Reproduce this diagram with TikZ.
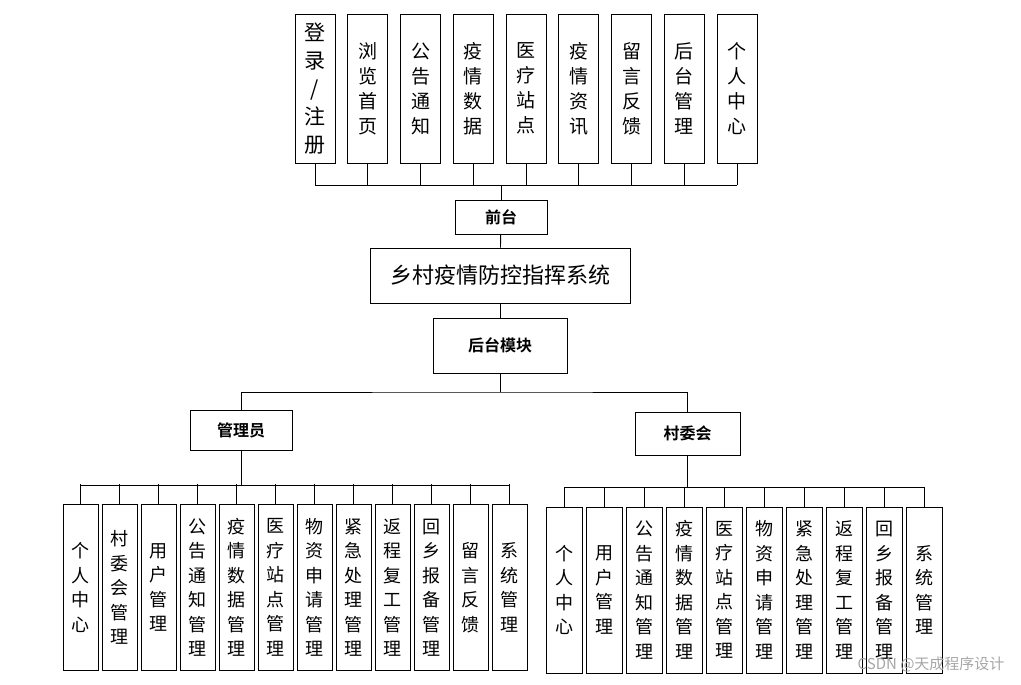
\documentclass[tikz,border=0pt]{standalone}
\usepackage{fontspec}
\setmainfont{Noto Sans CJK SC}
\newfontfamily\cjkb{Noto Sans CJK SC Bold}
\begin{document}
\begin{tikzpicture}[x=1pt,y=-1pt,
  bx/.style={draw,line width=0.9pt,inner sep=0pt,align=center},
  ln/.style={line width=0.9pt}]
\useasboundingbox (0,0) rectangle (1021,685);
% top
\foreach \t [count=\i from 0] in {浏\\览\\首\\页,公\\告\\通\\知,疫\\情\\数\\据,医\\疗\\站\\点,疫\\情\\资\\讯,留\\言\\反\\馈,后\\台\\管\\理,个\\人\\中\\心}{
  \node[bx,minimum width=40,minimum height=149,font=\fontsize{19}{25}\selectfont] (t\i) at ({367.75+52.75*\i},88.5) {\t};
  \draw[ln] (t\i.south) -- ++(0,22);
}
\node[bx,minimum width=40,minimum height=149,font=\fontsize{21}{28}\selectfont] (tA) at (315,88.5) {登\\录\\/\\注\\册};
\draw[ln] (tA.south) -- ++(0,22);
\node[bx,minimum width=92,minimum height=34,font=\cjkb\fontsize{16}{18}\selectfont] (qt) at (501,217) {前台};
\draw[ln] (tA.south |- 0,185) -- (t7.south |- 0,185);
\draw[ln] (qt.north |- 0,185) -- (qt.north);
\node[bx,minimum width=260,minimum height=55,font=\fontsize{22}{26}\selectfont] (sys) at (500,275.5) {乡村疫情防控指挥系统};
\node[bx,minimum width=134,minimum height=55,font=\cjkb\fontsize{16}{18}\selectfont] (ht) at (500,345.5) {后台模块};
\draw[ln] (qt) -- (sys);
\draw[ln] (sys) -- (ht);
\node[bx,minimum width=102,minimum height=40,font=\cjkb\fontsize{16}{18}\selectfont] (gly) at (241,430.5) {管理员};
\node[bx,minimum width=105,minimum height=43,font=\cjkb\fontsize{16}{18}\selectfont] (cwh) at (687.5,433.5) {村委会};
\draw[ln] (ht.south) -- (ht.south |- 0,392);
\draw[ln] (gly.north) |- (500,392) -| (cwh.north);
% bottom left
\draw[ln] (gly.south) -- (241,485);
\foreach \t [count=\i from 0] in {个\\人\\中\\心,村\\委\\会\\管\\理,用\\户\\管\\理,公\\告\\通\\知\\管\\理,疫\\情\\数\\据\\管\\理,医\\疗\\站\\点\\管\\理,物\\资\\申\\请\\管\\理,紧\\急\\处\\理\\管\\理,返\\程\\复\\工\\管\\理,回\\乡\\报\\备\\管\\理,留\\言\\反\\馈,系\\统\\管\\理}{
  \node[bx,minimum width=35,minimum height=166,font=\fontsize{18}{24.5}\selectfont] (l\i) at ({80.5+39*\i},587.5) {\t};
  \draw[ln] (l\i.north) -- ++(0,-20);
}
\draw[ln] (l0.north |- 0,485) -- (l11.north |- 0,485);
% bottom right
\draw[ln] (cwh.south) -- (687.5,487);
\foreach \t [count=\i from 0] in {个\\人\\中\\心,用\\户\\管\\理,公\\告\\通\\知\\管\\理,疫\\情\\数\\据\\管\\理,医\\疗\\站\\点\\管\\理,物\\资\\申\\请\\管\\理,紧\\急\\处\\理\\管\\理,返\\程\\复\\工\\管\\理,回\\乡\\报\\备\\管\\理,系\\统\\管\\理}{
  \node[bx,minimum width=36,minimum height=166,font=\fontsize{18}{24.5}\selectfont] (r\i) at ({564+40*\i},590) {\t};
  \draw[ln] (r\i.north) -- ++(0,-20);
}
\draw[ln] (r0.north |- 0,487) -- (r9.north |- 0,487);
\node[text=black!35,font=\fontsize{15}{18}\selectfont,anchor=east] (wm) at (1008,664) {CSDN @天成程序设计};
\end{tikzpicture}
\end{document}
